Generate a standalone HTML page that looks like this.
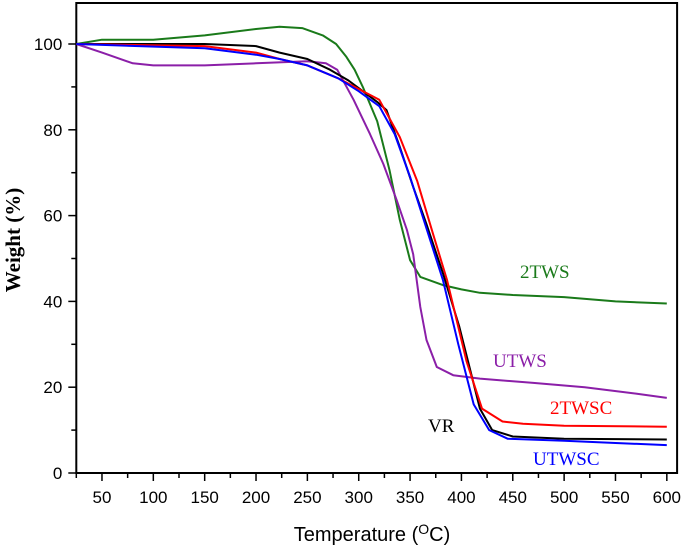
<!DOCTYPE html>
<html><head><meta charset="utf-8"><style>
html,body{margin:0;padding:0;background:#fff;}
svg{display:block;}
</style></head><body>
<svg id="chart" width="685" height="552" xmlns="http://www.w3.org/2000/svg">
<g id="plot"></g>
</svg>
<script>
const seriesNames = ["2TWS","UTWS","VR","2TWSC","UTWSC"];
const tempVR = [25,150,200,223,250,272,290,304,318,327,340,353,366,382,398,411,418,430,450,500,600];
const wVR    = [100,100,99.5,98,96.5,94,91.5,89,86.5,84.6,76,66.7,58,46.6,34,21.7,15,10,8.5,8,7.8];
const temp2TWS = [25,50,100,150,200,223,245,265,278,288,296,304,318,330,340,350,360,382,400,418,450,500,550,600];
const w2TWS    = [100,101,101,102,103.5,104,103.7,102,100,97,94,90,82,70.6,59,49.6,45.7,43.8,42.8,42,41.5,41,40,39.5];
const tempUTWS = [25,50,80,100,150,200,250,268,279,295,311,324,337,347,353,360,366,376,392,418,470,520,570,600];
const wUTWS    = [100,98,95.5,95,95,95.5,96,95.5,94,87,79,72,63.6,56.6,51,38.7,31,24.7,22.8,22,21,20,18.5,17.5];
const temp2TWSC = [25,150,200,223,250,280,300,320,340,357,372,386,405,420,440,460,500,600];
const w2TWSC    = [100,99.5,98,96.5,95,92,89.5,87,78.3,68,56,45,26,15,12,11.5,11,10.8];
const tempUTWSC = [25,150,200,223,250,280,300,320,335,350,366,382,397,412,427,445,500,550,600];
const wUTWSC    = [100,99,97.5,96.5,95,92,89,85.5,79,69,57,45,30,16,10,8,7.5,7,6.5];
const xTicks = [50,100,150,200,250,300,350,400,450,500,550,600];
const yTicks = [0,20,40,60,80,100];

const X0=76.3, Y0=473;
function xs(t){return X0+(t-25)*1.027;}
function ys(w){return Y0-w*4.29;}
const NS="http://www.w3.org/2000/svg";
const g=document.getElementById('plot');
function mk(tag,attrs,parent){const e=document.createElementNS(NS,tag);for(const k in attrs)e.setAttribute(k,attrs[k]);(parent||g).appendChild(e);return e;}

const frame=mk('rect',{x:xs(25),y:3,width:xs(610)-xs(25),height:Y0-3,fill:'none',stroke:'#000','stroke-width':2});



for(let t=25;t<=600;t+=25){
  const major=(t%50===0);
  const tk=mk('line',{x1:xs(t),x2:xs(t),y1:Y0,y2:Y0+(major?8:5),stroke:'#000','stroke-width':1.5});
  
  
}
xTicks.forEach(t=>{
  const tx=mk('text',{x:xs(t),y:Y0+30,'text-anchor':'middle','font-family':'Liberation Sans, sans-serif','font-size':17});
  tx.textContent=t;
  
  
});
for(let w=0;w<=100;w+=10){
  const major=(w%20===0);
  const tk=mk('line',{x1:xs(25)-(major?8:5),x2:xs(25),y1:ys(w),y2:ys(w),stroke:'#000','stroke-width':1.5});
  
  
}
yTicks.forEach(w=>{
  const tx=mk('text',{x:xs(25)-14,y:ys(w)+6,'text-anchor':'end','font-family':'Liberation Sans, sans-serif','font-size':17});
  tx.textContent=w;
  
  
});

const series=[
 {name:'2TWS',t:temp2TWS,w:w2TWS,c:'#1a7a1a'},
 {name:'UTWS',t:tempUTWS,w:wUTWS,c:'#8b1fa8'},
 {name:'VR',t:tempVR,w:wVR,c:'#000000'},
 {name:'2TWSC',t:temp2TWSC,w:w2TWSC,c:'#ff0000'},
 {name:'UTWSC',t:tempUTWSC,w:wUTWSC,c:'#0000ff'}
];
series.forEach(s=>{
  const d=s.t.map((t,i)=>(i?'L':'M')+xs(t).toFixed(1)+','+ys(s.w[i]).toFixed(1)).join(' ');
  const p=mk('path',{d:d,fill:'none',stroke:s.c,'stroke-width':2,'stroke-linejoin':'round'});
  
  
});

const labels=[['2TWS',520,278,'#1a7a1a'],['UTWS',493,367,'#8b1fa8'],['2TWSC',550,414,'#ff0000'],['VR',428,432,'#000'],['UTWSC',533,465,'#0000ff']];
labels.forEach(l=>{
  const tx=mk('text',{x:l[1],y:l[2],fill:l[3],'font-family':'Liberation Serif, serif','font-size':19});
  tx.textContent=l[0];
  
  
});

const xt=mk('text',{x:372,y:541,'text-anchor':'middle','font-family':'Liberation Sans, sans-serif','font-size':20});
xt.innerHTML='Temperature (<tspan dy="-7" font-size="14">O</tspan><tspan dy="7">C)</tspan>';


const yt=mk('text',{x:0,y:0,'text-anchor':'middle','font-family':'Liberation Serif, serif','font-size':21,'font-weight':'bold',transform:'translate(20,240) rotate(-90)'});
yt.textContent='Weight (%)';


</script>
</body></html>
